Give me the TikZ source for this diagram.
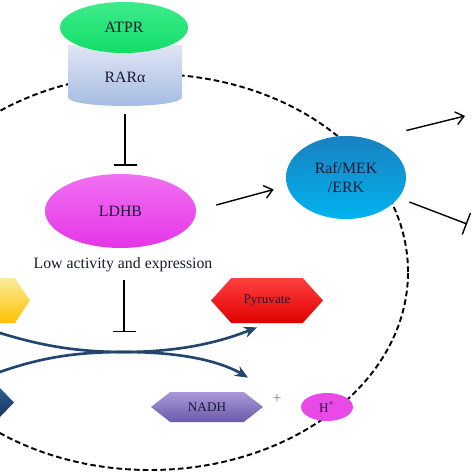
\documentclass[tikz,border=0pt]{standalone}
\usepackage{fontspec}
\setmainfont{Liberation Serif}
\usetikzlibrary{arrows.meta, shapes.geometric, shapes.symbols, calc, positioning}

\definecolor{ink}{HTML}{1A1A33}
\definecolor{atprtop}{HTML}{3DEB8A}
\definecolor{atprbot}{HTML}{12DE68}
\definecolor{rartop}{HTML}{E0E6F4}
\definecolor{rarbot}{HTML}{A3BAE2}
\definecolor{ldhbtop}{HTML}{F070F2}
\definecolor{ldhbbot}{HTML}{E535E8}
\definecolor{raftop}{HTML}{1A80C0}
\definecolor{rafbot}{HTML}{00B4F0}
\definecolor{pyrtop}{HTML}{FF4040}
\definecolor{pyrbot}{HTML}{E00000}
\definecolor{lactop}{HTML}{F8EC9A}
\definecolor{lacbot}{HTML}{FFC000}
\definecolor{nadtop}{HTML}{2E5F94}
\definecolor{nadbot}{HTML}{17375E}
\definecolor{nadhtop}{HTML}{A898D8}
\definecolor{nadhbot}{HTML}{6B5BAA}
\definecolor{hplus}{HTML}{E84AE8}
\definecolor{flow}{HTML}{224570}

\begin{document}
\begin{tikzpicture}[x=2mm, y=-2mm, font=\fontsize{9}{11}\selectfont,
    mol/.style={ellipse, inner sep=0pt, text=ink},
    hexa/.style={signal, signal to=east and west, inner sep=0pt, text=ink,
        font=\fontsize{7.5}{9}\selectfont},
    act/.style={-{Straight Barb[length=1.6mm, width=2.6mm]}, line width=0.8pt},
    inhib/.style={-{Bar[width=4.6mm, line width=0.8pt]}, line width=0.8pt},
    flux/.style={-{Stealth[length=2.6mm, width=2.2mm]}, line width=1.5pt, draw=flow}]
    \useasboundingbox (0,0) rectangle (47.4,47.4);
    \clip (0,0) rectangle (47.4,47.4);

    % cell membrane
    \draw[line width=1.1pt, dash pattern=on 3.2pt off 1.8pt] (15,27.2) ellipse [x radius=5.16cm, y radius=3.96cm];

    % receptor and ligand
    \shade[top color=rartop, bottom color=rarbot] (6.8,4.5) -- (6.8,9.7)
        .. controls (6.8,10.9) and (18.2,10.9) .. (18.2,9.7) -- (18.2,4.5) -- cycle;
    \node[minimum width=2.28cm, minimum height=1.16cm, text=ink] (rar) at (12.5,7.7) {RARα};
    \node[mol, minimum width=2.56cm, minimum height=1.02cm, top color=atprtop, bottom color=atprbot] (atpr) at (12.4,2.75) {ATPR};

    % enzyme and pathway
    \node[mol, minimum width=3.02cm, minimum height=1.48cm, top color=ldhbtop, bottom color=ldhbbot] (ldhb) at (12.05,21.1) {LDHB};
    \node[text=ink] (low) at (12.3,26.5) {Low activity and expression};
    \node[mol, align=center, minimum width=2.4cm, minimum height=1.66cm, top color=raftop, bottom color=rafbot] (raf) at (34.6,17.75) {Raf/MEK\\/ERK};

    % metabolites
    \node[hexa, minimum width=2.24cm, minimum height=0.9cm, signal pointer angle=96, top color=pyrtop, bottom color=pyrbot] (pyr) at (26.7,30.05) {Pyruvate};
    \node[hexa, minimum width=2.24cm, minimum height=0.6cm, signal pointer angle=76, top color=nadhtop, bottom color=nadhbot] (nadh) at (20.7,40.7) {NADH};
    \node[hexa, minimum width=2.4cm, minimum height=0.9cm, signal pointer angle=112, top color=lactop, bottom color=lacbot] (lac) at (-3.0,30.05) {};
    \node[hexa, minimum width=2.16cm, minimum height=0.58cm, signal pointer angle=92, top color=nadtop, bottom color=nadbot] (nad) at (-4.0,40.25) {};
    \node[mol, minimum width=1.04cm, minimum height=0.56cm, fill=hplus, font=\fontsize{7.5}{9}\selectfont] (hp) at (32.7,40.7) {H\textsuperscript{+}};
    \node[text=gray] (plus) at (27.7,39.9) {+};

    % conversion arrows
    \coordinate (cross) at (12.4,35.2);
    \draw[flux] (lac.south) .. controls (2,34) and (6,35.2) .. (cross)
        .. controls (19,35.2) and (23,33.8) .. ([shift={(-1.0,0.4)}]pyr.south);
    \draw[flux] (nad.north) .. controls (2,36.2) and (6,35.2) .. (cross)
        .. controls (19,35.2) and (22.5,36.4) .. ([shift={(4.1,-1.4)}]nadh.north);

    % regulation
    \draw[inhib, shorten <=1.6mm, shorten >=1.6mm] (rar.south) -- (rar.south |- ldhb.north);
    \draw[inhib, shorten <=0.4mm, shorten >=4mm] (cross |- low.south) -- (cross);
    \draw[act] ([shift={(2.0,-0.6)}]ldhb.east) -- ([shift={(-1.2,1.2)}]raf.west);

    \coordinate (erkup) at (46.5,11.6);
    \coordinate (erkdn) at (46.7,22.4);
    \draw[act] ([shift={(0,-4.7)}]raf.east) -- (erkup);
    \draw[inhib] ([shift={(0.3,2.45)}]raf.east) -- (erkdn);
\end{tikzpicture}
\end{document}
